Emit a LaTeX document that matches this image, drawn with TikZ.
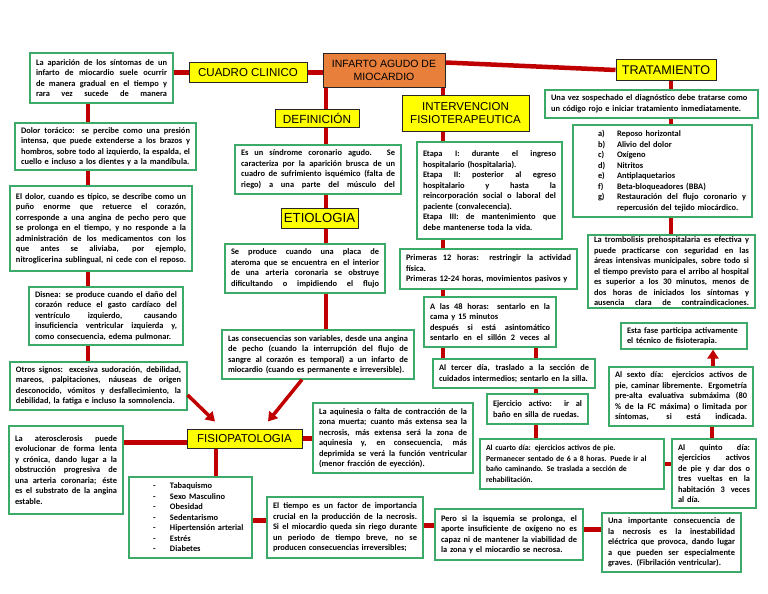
\documentclass[tikz,border=0pt]{standalone}
\usepackage{fontspec}
\setmainfont{Carlito}
\newfontfamily\headfont{Liberation Sans}
\usetikzlibrary{positioning, arrows.meta, calc, backgrounds}
\definecolor{rojo}{HTML}{C00000}
\definecolor{verde}{HTML}{3DAA6A}
\definecolor{amarillo}{HTML}{FFFF00}
\definecolor{naranja}{HTML}{E8803C}
% linea justificada a todo el ancho de la caja
\newcommand\jl[1]{\makebox[\hsize][s]{\spaceskip=0pt\xspaceskip=0pt #1}}
\tikzset{
  titulo/.style 2 args={rectangle, draw=black!85, line width=1pt, fill=naranja, align=center, inner sep=0pt, minimum width=#1pt, minimum height=#2pt, font=\headfont\fontsize{10.5}{12.5}\selectfont},
  tema/.style 2 args={rectangle, draw=black!85, line width=1pt, fill=amarillo, align=center, inner sep=0pt, minimum width=#1pt, minimum height=#2pt, font=\headfont\fontsize{11.5}{13}\selectfont},
  caja/.style 2 args={rectangle, draw=verde, line width=1.2pt, fill=white, align=left, inner xsep=6pt, inner ysep=1pt, text width=#1pt-12pt, minimum height=#2pt, font=\bfseries\fontsize{8.4}{10.5}\selectfont},
  enlace/.style={rojo, line width=4.5pt},
  flecha/.style={rojo, line width=3.5pt, -{Triangle[length=9pt,width=11pt]}}
}

\begin{document}
\begin{tikzpicture}[x=1pt, y=-1pt]
  \useasboundingbox (0,0) rectangle (768,594);

  % Temas principales
  \node[titulo={122}{33}] (titulo) at (384,70.5) {INFARTO AGUDO DE\\MIOCARDIO};
  \node[tema={118}{19}] (cuadro) at (248,72.5) {CUADRO CLINICO};
  \node[tema={100}{20}, font=\headfont\fontsize{12.6}{14}\selectfont] (trat) at (666,70) {TRATAMIENTO};
  \node[tema={84}{18}, font=\headfont\fontsize{11.8}{13}\selectfont] (defh) at (317,118) {DEFINICIÓN};
  \node[tema={77}{20}, font=\headfont\fontsize{13.2}{14}\selectfont] (etih) at (319.5,218) {ETIOLOGIA};
  \node[tema={127}{36}] (inter) at (465.5,113) {INTERVENCION\\FISIOTERAPEUTICA};
  \node[tema={115}{19}] (fisio) at (244.5,438.5) {FISIOPATOLOGIA};

  % Cuadro clinico
  \node[caja={143}{50}] (apar) at (101.5,78) {\jl{La aparición de los síntomas de un}\\
    \jl{infarto de miocardio suele ocurrir}\\
    \jl{de manera gradual en el tiempo y}\\
    \jl{rara vez sucede de manera}};
  \node[caja={181}{47}] (torax) at (105.5,146.5) {\jl{Dolor torácico: se percibe como una presión}\\
    \jl{intensa, que puede extenderse a los brazos y}\\
    \jl{hombros, sobre todo al izquierdo, la espalda, el}\\
    cuello e incluso a los dientes y a la mandíbula.};
  \node[caja={182}{85}] (dolor) at (101,228.5) {\jl{El dolor, cuando es típico, se describe como un}\\
    \jl{puño enorme que retuerce el corazón,}\\
    \jl{corresponde a una angina de pecho pero que}\\
    \jl{se prolonga en el tiempo, y no responde a la}\\
    \jl{administración de los medicamentos con los}\\
    \jl{que antes se aliviaba, por ejemplo,}\\
    \jl{nitroglicerina sublingual, ni cede con el reposo.}};
  \node[caja={154}{58}] (disnea) at (106,316) {\jl{Disnea: se produce cuando el daño del}\\
    \jl{corazón reduce el gasto cardíaco del}\\
    \jl{ventrículo izquierdo, causando}\\
    \jl{insuficiencia ventricular izquierda y,}\\
    como consecuencia, edema pulmonar.};
  \node[caja={177}{48}] (otros) at (98.5,386) {\jl{Otros signos: excesiva sudoración, debilidad,}\\
    \jl{mareos, palpitaciones, náuseas de origen}\\
    \jl{desconocido, vómitos y desfallecimiento, la}\\
    debilidad, la fatiga e incluso la somnolencia.};

  % Definicion y etiologia
  \node[caja={166}{49}] (defi) at (318,169.5) {\jl{Es un síndrome coronario agudo. Se}\\
    \jl{caracteriza por la aparición brusca de un}\\
    \jl{cuadro de sufrimiento isquémico (falta de}\\
    \jl{riego) a una parte del músculo del}};
  \node[caja={160}{49}] (etio) at (305,268.5) {\jl{Se produce cuando una placa de}\\
    \jl{ateroma que se encuentra en el interior}\\
    \jl{de una arteria coronaria se obstruye}\\
    \jl{dificultando o impidiendo el flujo}};
  \node[caja={192}{49}] (cons) at (318,354.5) {\jl{Las consecuencias son variables, desde una angina}\\
    \jl{de pecho (cuando la interrupción del flujo de}\\
    \jl{sangre al corazón es temporal) a un infarto de}\\
    miocardio (cuando es permanente e irreversible).};

  % Fisiopatologia
  \node[caja={160}{70}] (aqui) at (393,438) {\jl{La aquinesia o falta de contracción de la}\\
    \jl{zona muerta; cuanto más extensa sea la}\\
    \jl{necrosis, más extensa será la zona de}\\
    \jl{aquinesia y, en consecuencia, más}\\
    \jl{deprimida se verá la función ventricular}\\
    (menor fracción de eyección).};
  \node[caja={114}{88}] (ater) at (66,470) {\jl{La aterosclerosis puede}\\
    \jl{evolucionar de forma lenta}\\
    \jl{y crónica, dando lugar a la}\\
    \jl{obstrucción progresiva de}\\
    \jl{una arteria coronaria; éste}\\
    \jl{es el substrato de la angina}\\
    estable.};
  \node[caja={123}{81}] (fact) at (190.5,517.5) {\hspace*{18pt}\makebox[17pt][l]{-}Tabaquismo\\
    \hspace*{18pt}\makebox[17pt][l]{-}Sexo Masculino\\
    \hspace*{18pt}\makebox[17pt][l]{-}Obesidad\\
    \hspace*{18pt}\makebox[17pt][l]{-}Sedentarismo\\
    \hspace*{18pt}\makebox[17pt][l]{-}Hipertensión arterial\\
    \hspace*{18pt}\makebox[17pt][l]{-}Estrés\\
    \hspace*{18pt}\makebox[17pt][l]{-}Diabetes};
  \node[caja={156}{61}] (tiempo) at (345,527.5) {\jl{El tiempo es un factor de importancia}\\
    \jl{crucial en la producción de la necrosis.}\\
    \jl{Si el miocardio queda sin riego durante}\\
    \jl{un periodo de tiempo breve, no se}\\
    producen consecuencias irreversibles;};
  \node[caja={148}{51}] (pero) at (509,534.5) {\jl{Pero si la isquemia se prolonga, el}\\
    \jl{aporte insuficiente de oxígeno no es}\\
    \jl{capaz ni de mantener la viabilidad de}\\
    la zona y el miocardio se necrosa.};
  \node[caja={139}{59}] (inest) at (671.5,542.5) {\jl{Una importante consecuencia de}\\
    \jl{la necrosis es la inestabilidad}\\
    \jl{eléctrica que provoca, dando lugar}\\
    \jl{a que pueden ser especialmente}\\
    graves. (Fibrilación ventricular).};

  % Intervencion fisioterapeutica
  \node[caja={145}{97}] (etapa) at (489.5,190.5) {\jl{Etapa I: durante el ingreso}\\
    hospitalario (hospitalaria).\\
    \jl{Etapa II: posterior al egreso}\\
    \jl{hospitalario y hasta la}\\
    \jl{reincorporación social o laboral del}\\
    paciente (convalecencia).\\
    \jl{Etapa III: de mantenimiento que}\\
    debe mantenerse toda la vida.};
  \node[caja={177}{40}] (prim) at (488.5,269) {\jl{Primeras 12 horas: restringir la actividad}\\
    física.\\
    Primeras 12-24 horas, movimientos pasivos y};
  \node[caja={132}{50}] (h48) at (490,322) {\jl{A las 48 horas: sentarlo en la}\\
    cama y 15 minutos\\
    \jl{después si está asintomático}\\
    \jl{sentarlo en el sillón 2 veces al}};
  \node[caja={162}{29}] (dia3) at (514,373.5) {\jl{Al tercer día, traslado a la sección de}\\
    cuidados intermedios; sentarlo en la silla.};
  \node[caja={101}{30}] (ejer) at (537.5,409) {\jl{Ejercicio activo: ir al}\\
    baño en silla de ruedas.};
  \node[caja={184}{50}, font=\bfseries\fontsize{7.8}{10.5}\selectfont] (dia4) at (572,464) {Al cuarto día: ejercicios activos de pie.\\
    Permanecer sentado de 6 a 8 horas. Puede ir al\\
    baño caminando. Se traslada a sección de\\
    rehabilitación.};
  \node[caja={84}{69}] (dia5) at (714,473.5) {\jl{Al quinto día:}\\
    \jl{ejercicios activos}\\
    \jl{de pie y dar dos o}\\
    \jl{tres vueltas en la}\\
    \jl{habitación 3 veces}\\
    al día.};
  \node[caja={144}{59}] (dia6) at (681,396.5) {\jl{Al sexto día: ejercicios activos de}\\
    \jl{pie, caminar libremente. Ergometría}\\
    \jl{pre-alta evaluativa submáxima (80}\\
    \jl{\% de la FC máxima) o limitada por}\\
    \jl{síntomas, si está indicada.}};
  \node[caja={126}{26}] (fase) at (684,336) {Esta fase participa activamente\\
    el técnico de fisioterapia.};

  % Tratamiento
  \node[caja={213}{28}] (sosp) at (651.5,104) {Una vez sospechado el diagnóstico debe tratarse como\\
    un código rojo e iniciar tratamiento inmediatamente.};
  \node[caja={179}{92}] (medi) at (662.5,171) {\hspace*{19pt}\makebox[19pt][l]{a)}Reposo horizontal\\
    \hspace*{19pt}\makebox[19pt][l]{b)}Alivio del dolor\\
    \hspace*{19pt}\makebox[19pt][l]{c)}Oxígeno\\
    \hspace*{19pt}\makebox[19pt][l]{d)}Nitritos\\
    \hspace*{19pt}\makebox[19pt][l]{e)}Antiplaquetarios\\
    \hspace*{19pt}\makebox[19pt][l]{f)}Beta-bloqueadores (BBA)\\
    \hspace*{19pt}\makebox[19pt][l]{g)}\makebox[129pt][s]{\spaceskip=0pt Restauración del flujo coronario y}\\
    \hspace*{38pt}repercusión del tejido miocárdico.};
  \node[caja={167}{73}] (trom) at (671.5,271.5) {\jl{La trombolisis prehospitalaria es efectiva y}\\
    \jl{puede practicarse con seguridad en las}\\
    \jl{áreas intensivas municipales, sobre todo si}\\
    \jl{el tiempo previsto para el arribo al hospital}\\
    \jl{es superior a los 30 minutos, menos de}\\
    \jl{dos horas de iniciados los síntomas y}\\
    \jl{ausencia clara de contraindicaciones.}};

  % Columnas de las lineas verticales
  \coordinate (colA) at (88,0);
  \coordinate (colB) at (326,0);
  \coordinate (colC) at (443,0);
  \coordinate (colD) at (536,0);
  \coordinate (colE) at (671,0);
  \coordinate (colF) at (712,0);
  \coordinate (colG) at (216,0);
  \coordinate (colH) at (713,0);

  % Conexiones (detras de las cajas)
  \begin{scope}[on background layer]
    \draw[enlace] (cuadro.east) -- (cuadro.east -| titulo.west);
    \draw[enlace] (cuadro.west) -- (cuadro.west -| apar.east);
    \draw[enlace] ([yshift=8pt]titulo.east) -- (trat.west);
    \draw[enlace] (colA |- apar.south) -- (colA |- otros.north);
    \draw[enlace] (colB |- titulo.south) -- (colB |- cons.north);
    \draw[enlace] (colC |- titulo.south) -- (colC |- dia3.north);
    \draw[enlace] (colD |- h48.south) -- (colD |- dia4.north);
    \draw[enlace] (colE |- trat.south) -- (colE |- trom.north);
    \draw[enlace] (dia4.east) -- (dia4.east -| dia5.west);
    \draw[enlace] (colF |- dia5.north) -- (colF |- dia6.south);
    \draw[enlace] ([yshift=-4pt]fisio.west) -- ([yshift=-4pt]fisio.west -| ater.east);
    \draw[enlace] (fisio.east) -- (fisio.east -| aqui.west);
    \draw[enlace] (colG |- fisio.south) -- (colG |- fact.north);
    \draw[enlace] ([yshift=-3pt]fact.east) -- ([yshift=-3pt]fact.east -| tiempo.west);
    \draw[enlace] ([yshift=2pt]tiempo.east) -- ([yshift=2pt]tiempo.east -| pero.west);
    \draw[enlace] ([yshift=5pt]pero.east) -- ([yshift=5pt]pero.east -| inest.west);
  \end{scope}

  % Flechas
  \draw[flecha] ([yshift=-9pt]otros.east) -- ([xshift=-29.5pt, yshift=7pt]fisio.north);
  \draw[flecha] ([xshift=-16pt]cons.south) -- ([xshift=23.5pt, yshift=7pt]fisio.north);
  \draw[flecha] (colH |- dia6.north) -- (colH |- fase.south);
\end{tikzpicture}
\end{document}
